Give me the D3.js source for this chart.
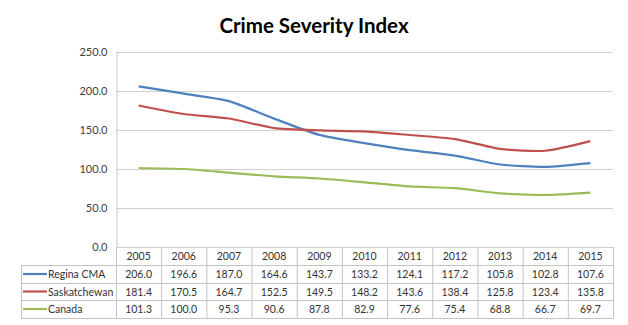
<!DOCTYPE html>
<html><head><meta charset="utf-8">
<script src="https://cdn.jsdelivr.net/npm/d3@7"></script>
<style>body{margin:0;background:#fff}svg{display:block}</style>
</head><body>
<script>
const years = ["2005","2006","2007","2008","2009","2010","2011","2012","2013","2014","2015"];
const regina = [206.0,196.6,187.0,164.6,143.7,133.2,124.1,117.2,105.8,102.8,107.6];
const sask = [181.4,170.5,164.7,152.5,149.5,148.2,143.6,138.4,125.8,123.4,135.8];
const canada = [101.3,100.0,95.3,90.6,87.8,82.9,77.6,75.4,68.8,66.7,69.7];
const seriesNames = ["Regina CMA","Saskatchewan","Canada"];
const yTicks = [0,50,100,150,200,250];
const title = "Crime Severity Index";

const series = [
  {name: seriesNames[0], values: regina, color: "#4F81BD"},
  {name: seriesNames[1], values: sask, color: "#C0504D"},
  {name: seriesNames[2], values: canada, color: "#9BBB59"}
];

const W = 628, H = 325;
const svg = d3.select("body").append("svg").attr("width", W).attr("height", H);
const font = "Lato, 'Open Sans', sans-serif";

const x = d3.scaleBand().domain(years).range([116, 613]);
const y = d3.scaleLinear().domain([0, 250]).range([247, 52]);

svg.append("text").attr("x", 314).attr("y", 33).attr("text-anchor", "middle")
  .attr("font-family", font).attr("font-weight", "bold").attr("font-size", 20.5)
  .attr("fill", "#000").text(title);

// gridlines
svg.append("g").selectAll("line").data(yTicks).join("line")
  .attr("x1", 116).attr("x2", 613)
  .attr("y1", d => y(d) + 0.5).attr("y2", d => y(d) + 0.5)
  .attr("stroke", "#d0d0d0").attr("stroke-width", 1);

// y axis
const yAxis = d3.axisLeft(y).tickValues(yTicks).tickFormat(d3.format(".1f")).tickSize(0).tickPadding(9);
const ga = svg.append("g").attr("transform", "translate(116.5,0)").call(yAxis);
ga.select(".domain").attr("stroke", "#c8c8c8");
ga.selectAll("text").attr("font-family", font).attr("font-size", 11).attr("fill", "#404040");

// lines
const line = d3.line()
  .x((d, i) => x(years[i]) + x.bandwidth() / 2)
  .y(d => y(d))
  .curve(d3.curveCardinal.tension(0.35));
svg.append("g").selectAll("path").data(series).join("path")
  .attr("d", d => line(d.values))
  .attr("fill", "none").attr("stroke", d => d.color).attr("stroke-width", 2.2)
  .attr("stroke-linejoin", "round");

// data table
const rowTops = [247, 265, 283, 300, 318];
const tg = svg.append("g");
const gridColor = "#c4c4c4";
rowTops.forEach((t, i) => {
  if (i === 0) return;
  tg.append("line").attr("x1", 21).attr("x2", 614).attr("y1", t + 0.5).attr("y2", t + 0.5)
    .attr("stroke", gridColor);
});
years.forEach(yr => {
  tg.append("line").attr("x1", x(yr) + 0.5).attr("x2", x(yr) + 0.5).attr("y1", 247).attr("y2", 318)
    .attr("stroke", gridColor);
});
tg.append("line").attr("x1", 613.5).attr("x2", 613.5).attr("y1", 247).attr("y2", 318).attr("stroke", gridColor);
tg.append("line").attr("x1", 21.5).attr("x2", 21.5).attr("y1", 265).attr("y2", 318).attr("stroke", gridColor);

const txt = (xx, yy, s, anchor, fs) => tg.append("text").attr("x", xx).attr("y", yy)
  .attr("text-anchor", anchor).attr("font-family", font).attr("font-size", fs)
  .attr("fill", "#333").text(s);

years.forEach(yr => txt(x(yr) + x.bandwidth() / 2, 260, yr, "middle", 10.5));
series.forEach((s, r) => {
  const mid = (rowTops[r + 1] + rowTops[r + 2]) / 2;
  tg.append("line").attr("x1", 23).attr("x2", 47).attr("y1", mid).attr("y2", mid)
    .attr("stroke", s.color).attr("stroke-width", 2.2);
  txt(48, mid + 4, s.name, "start", 10.5);
  s.values.forEach((v, i) => txt(x(years[i]) + x.bandwidth() / 2, mid + 4, v.toFixed(1), "middle", 10.5));
});
</script>
</body></html>
